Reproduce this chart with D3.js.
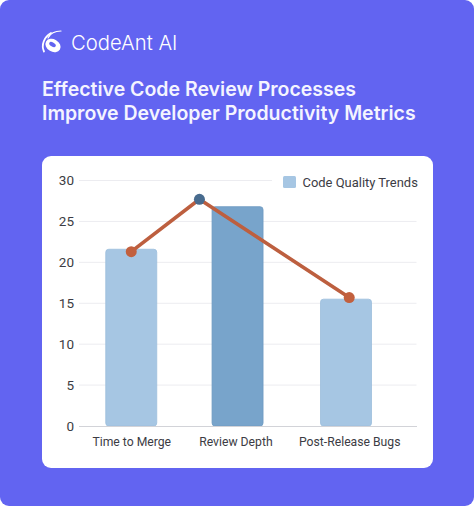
<!DOCTYPE html>
<html><head><meta charset="utf-8">
<script src="https://cdn.jsdelivr.net/npm/d3@7"></script>
<style>html,body{margin:0;padding:0;background:#fff;overflow:hidden}svg{display:block}text{font-family:Inter,Roboto,sans-serif}</style>
</head><body>
<svg id="c" width="474" height="506"></svg>
<script>
const categories = ["Time to Merge", "Review Depth", "Post-Release Bugs"];
const barValues = [21.6, 26.8, 15.5];
const barPositions = [0, 0.99, 2];
const labelPositions = [0, 0.97, 2.03];
const barColors = ["#a6c6e3", "#78a4cb", "#a6c6e3"];
const barEdges = ["#9cbedc", "#6e9ac1", "#9cbedc"];
const lineValues = [21.3, 27.7, 15.7];
const linePositions = [0, 0.635, 2.03];
const markerColors = ["#c2603e", "#486b8e", "#c2603e"];
const yTicks = [0, 5, 10, 15, 20, 25, 30];
const legendLabel = "Code Quality Trends";
const brand = "CodeAnt AI";
const titleLines = ["Effective Code Review Processes", "Improve Developer Productivity Metrics"];

const svg = d3.select("#c");
svg.append("rect").attr("width", 474).attr("height", 506).attr("rx", 9).attr("fill", "#6264f1");

// logo
const logo = svg.append("g").attr("fill", "none").attr("stroke", "#fff").attr("stroke-linecap", "round");
logo.append("ellipse").attr("cx", 53).attr("cy", 45.5).attr("rx", 8).attr("ry", 6.2)
  .attr("transform", "rotate(30 53 45.5)").attr("fill", "#fff").attr("stroke", "none");
logo.append("ellipse").attr("cx", 52.5).attr("cy", 44.5).attr("rx", 3.6).attr("ry", 2)
  .attr("transform", "rotate(30 52.5 44.5)").attr("fill", "#6264f1").attr("stroke", "none");
logo.append("path").attr("d", "M44 51.5C41 45 44 37 51 33").attr("stroke-width", 1.8);
logo.append("path").attr("d", "M48 38C50 34 55 31 61 31").attr("stroke-width", 1.2);

svg.append("text").attr("x", 71).attr("y", 49.5).attr("fill", "#fff").attr("font-size", 20.3).attr("font-weight", 300).text(brand);
svg.selectAll("text.title").data(titleLines).join("text").attr("class", "title")
  .attr("x", 42).attr("y", (d, i) => 95.5 + i * 24).attr("fill", "#f4f4ff")
  .attr("font-size", 19.5).attr("font-weight", 600).text(d => d);

svg.append("rect").attr("x", 42).attr("y", 156).attr("width", 391).attr("height", 312).attr("rx", 9).attr("fill", "#fff");

const y = d3.scaleLinear().domain([0, 30]).range([426, 180.5]);
const x = d3.scaleLinear().domain([0, 2]).range([131.25, 346]);
const barWidth = 51;

svg.append("g").selectAll("line").data(yTicks.filter(d => d > 0)).join("line")
  .attr("x1", 79).attr("x2", d => d === 30 ? 272 : 416.5).attr("y1", d => y(d)).attr("y2", d => y(d))
  .attr("stroke", "#ececf0").attr("stroke-width", 1);

const yAxis = svg.append("g").attr("transform", "translate(79,0)").call(d3.axisLeft(y).tickValues(yTicks).tickSize(0).tickPadding(5));
yAxis.select(".domain").remove();
yAxis.selectAll("text").attr("font-size", 13.5).attr("fill", "#3c3c44").style("font-family", "Roboto,sans-serif");

svg.append("g").selectAll("rect").data(categories).join("rect")
  .attr("x", (d, i) => x(barPositions[i]) - barWidth / 2).attr("width", barWidth)
  .attr("y", (d, i) => y(barValues[i])).attr("height", (d, i) => y(0) - y(barValues[i]))
  .attr("rx", 3).attr("fill", (d, i) => barColors[i]).attr("stroke", (d, i) => barEdges[i]).attr("stroke-width", 0.8);

const xAxis = svg.append("g").attr("transform", "translate(0,426)")
  .call(d3.axisBottom(x).tickValues(labelPositions).tickFormat((d, i) => categories[i]).tickSize(0).tickPadding(11));
xAxis.select(".domain").attr("stroke", "#d2d3d8").attr("stroke-width", 1.2).attr("d", "M79,0.5H417");
xAxis.selectAll("text").attr("font-size", 12.2).attr("fill", "#3c3c44").style("font-family", "Roboto,sans-serif");

const pts = lineValues.map((v, i) => [x(linePositions[i]), y(v)]);
svg.append("path").attr("d", d3.line()(pts)).attr("fill", "none").attr("stroke", "#bd5f3f").attr("stroke-width", 3.6);
svg.append("g").selectAll("circle").data(pts).join("circle")
  .attr("cx", d => d[0]).attr("cy", d => d[1]).attr("r", 5.5).attr("fill", (d, i) => markerColors[i]);

svg.append("rect").attr("x", 283).attr("y", 176).attr("width", 13).attr("height", 12).attr("rx", 1.5).attr("fill", "#a6c6e3");
svg.append("text").attr("x", 302.5).attr("y", 186.5).attr("font-size", 12.95).attr("fill", "#3c3c44")
  .style("font-family", "Roboto,sans-serif").text(legendLabel);
</script>
</body></html>
